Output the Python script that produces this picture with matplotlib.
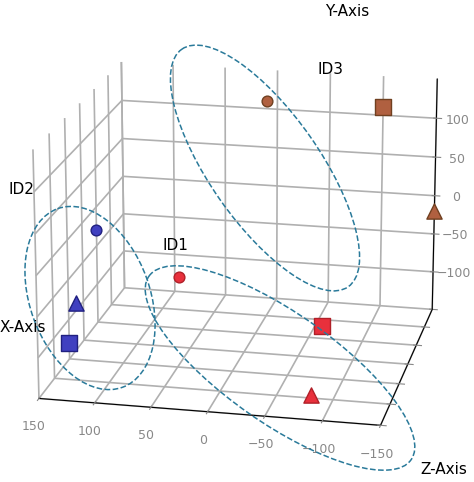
import matplotlib
matplotlib.use("Agg")
import matplotlib.pyplot as plt
from matplotlib.patches import Ellipse

# data: (Y-axis value, Z-axis value, X-axis/vertical value)
id1_y = [60, -90, -90]; id1_z = [60, 100, 120]; id1_x = [-60, -60, -120]
id2_y = [150, 150, 150]; id2_z = [40, 80, 70]; id2_x = [-30, -130, -90]
id3_y = [10, -100, -150]; id3_z = [0, 0, 0]; id3_x = [110, 110, -20]
markers = ['o', 's', '^']
sizes = [60, 120, 120]

fig = plt.figure(figsize=(4.74, 4.82), dpi=100)
ax = fig.add_axes([-0.05, -0.05, 1.1, 1.1], projection='3d')
ax.set_xlim(150, -150); ax.set_ylim(120, 0); ax.set_zlim(-150, 150)
ax.view_init(elev=18, azim=-78)
for pane in (ax.xaxis, ax.yaxis, ax.zaxis):
    pane.set_pane_color((1, 1, 1, 0))
    pane._axinfo['grid']['color'] = '#b0b0b0'
    pane._axinfo['grid']['linewidth'] = 1.2
ax.set_xticks([150, 100, 50, 0, -50, -100, -150])
ax.set_zticks([-100, -50, 0, 50, 100])
ax.set_yticks([0, 20, 40, 60, 80, 100, 120]); ax.set_yticklabels([])
ax.tick_params(labelsize=9, colors='#888888')

for ys, zs, xs, c, ec in [(id1_y, id1_z, id1_x, '#e8303c', '#b02028'),
                          (id2_y, id2_z, id2_x, '#4040c0', '#202080'),
                          (id3_y, id3_z, id3_x, '#b06040', '#704020')]:
    for i in range(3):
        ax.scatter([ys[i]], [zs[i]], [xs[i]], marker=markers[i], s=sizes[i],
                   color=c, edgecolor=ec, depthshade=False)

ov = fig.add_axes([0, 0, 1, 1]); ov.set_xlim(0, 474); ov.set_ylim(482, 0); ov.axis('off')
for (cx, cy, w, h, a) in [(90, 298, 120, 190, -20), (280, 368, 110, 320, -55), (265, 168, 110, 290, -35)]:
    ov.add_patch(Ellipse((cx, cy), w, h, angle=a, fill=False, ls='--', ec='#2a7a9a', lw=1.1))
for t, x, y in [("ID1", 163, 245), ("ID2", 8, 190), ("ID3", 318, 70),
                ("X-Axis", 0, 328), ("Y-Axis", 325, 12), ("Z-Axis", 420, 470)]:
    ov.text(x, y, t, fontsize=11, va='center')
fig.savefig("out.png")
